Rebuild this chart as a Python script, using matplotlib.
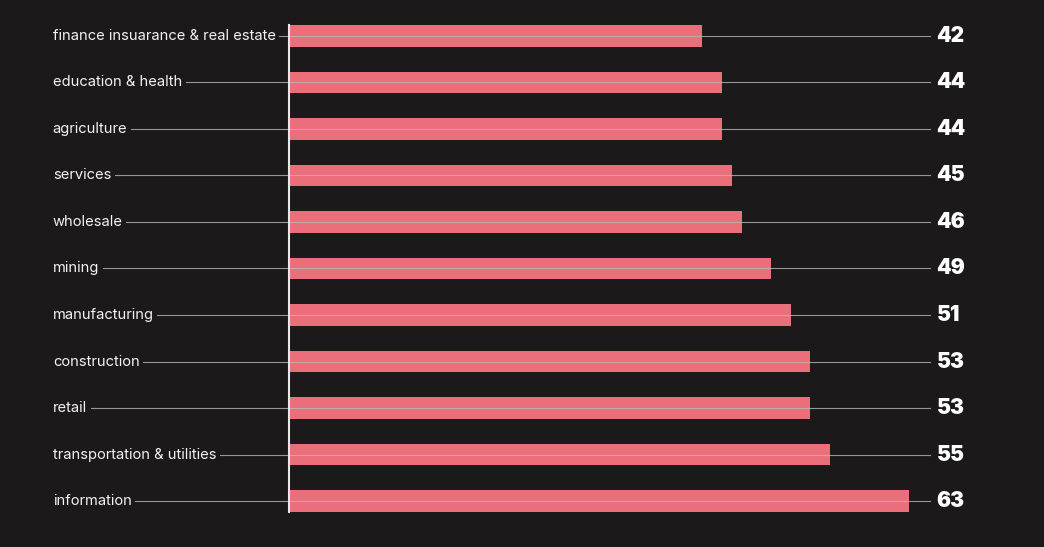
import matplotlib.pyplot as plt

industries = ['finance insuarance & real estate', 'education & health', 'agriculture',
              'services', 'wholesale', 'mining', 'manufacturing', 'construction',
              'retail', 'transportation & utilities', 'information']
values = [42, 44, 44, 45, 46, 49, 51, 53, 53, 55, 63]

bg = '#1b191a'
bar_color = '#eb6e7b'
line_color = '#b8b8b8'

plt.rcParams['font.family'] = ['Inter', 'DejaVu Sans']

fig = plt.figure(figsize=(10.44, 5.47), dpi=100, facecolor=bg)
ax = fig.add_axes([289 / 1044, 1 - 512 / 547, (930 - 289) / 1044, (512 - 25) / 547])
ax.set_facecolor(bg)

pos = list(range(len(industries)))
ax.barh(pos, values, height=0.47, color=bar_color, zorder=2)
ax.set_xlim(0, 65.15)
ax.set_ylim(len(industries) - 1 + 0.235, -0.235)

for i, (name, v) in enumerate(zip(industries, values)):
    # guide line across the whole row, from the label to the value
    ax.plot([-23.5, 65.15], [i, i], color=line_color, lw=0.8, alpha=0.8,
            clip_on=False, zorder=3)
    ax.text(-24.0, i, name, color='#f2f2f2', fontsize=10.6, ha='left', va='center',
            zorder=4, bbox=dict(facecolor=bg, edgecolor='none', pad=2.5))
    ax.text(65.8, i, str(v), color='white', fontsize=15, fontweight='black',
            ha='left', va='center', clip_on=False)

for s in ['top', 'right', 'bottom']:
    ax.spines[s].set_visible(False)
ax.spines['left'].set_color('#e8e8e8')
ax.spines['left'].set_linewidth(1.5)
ax.spines['left'].set_zorder(5)
ax.set_xticks([])
ax.set_yticks([])

fig.savefig('out.png', dpi=100, facecolor=bg)
